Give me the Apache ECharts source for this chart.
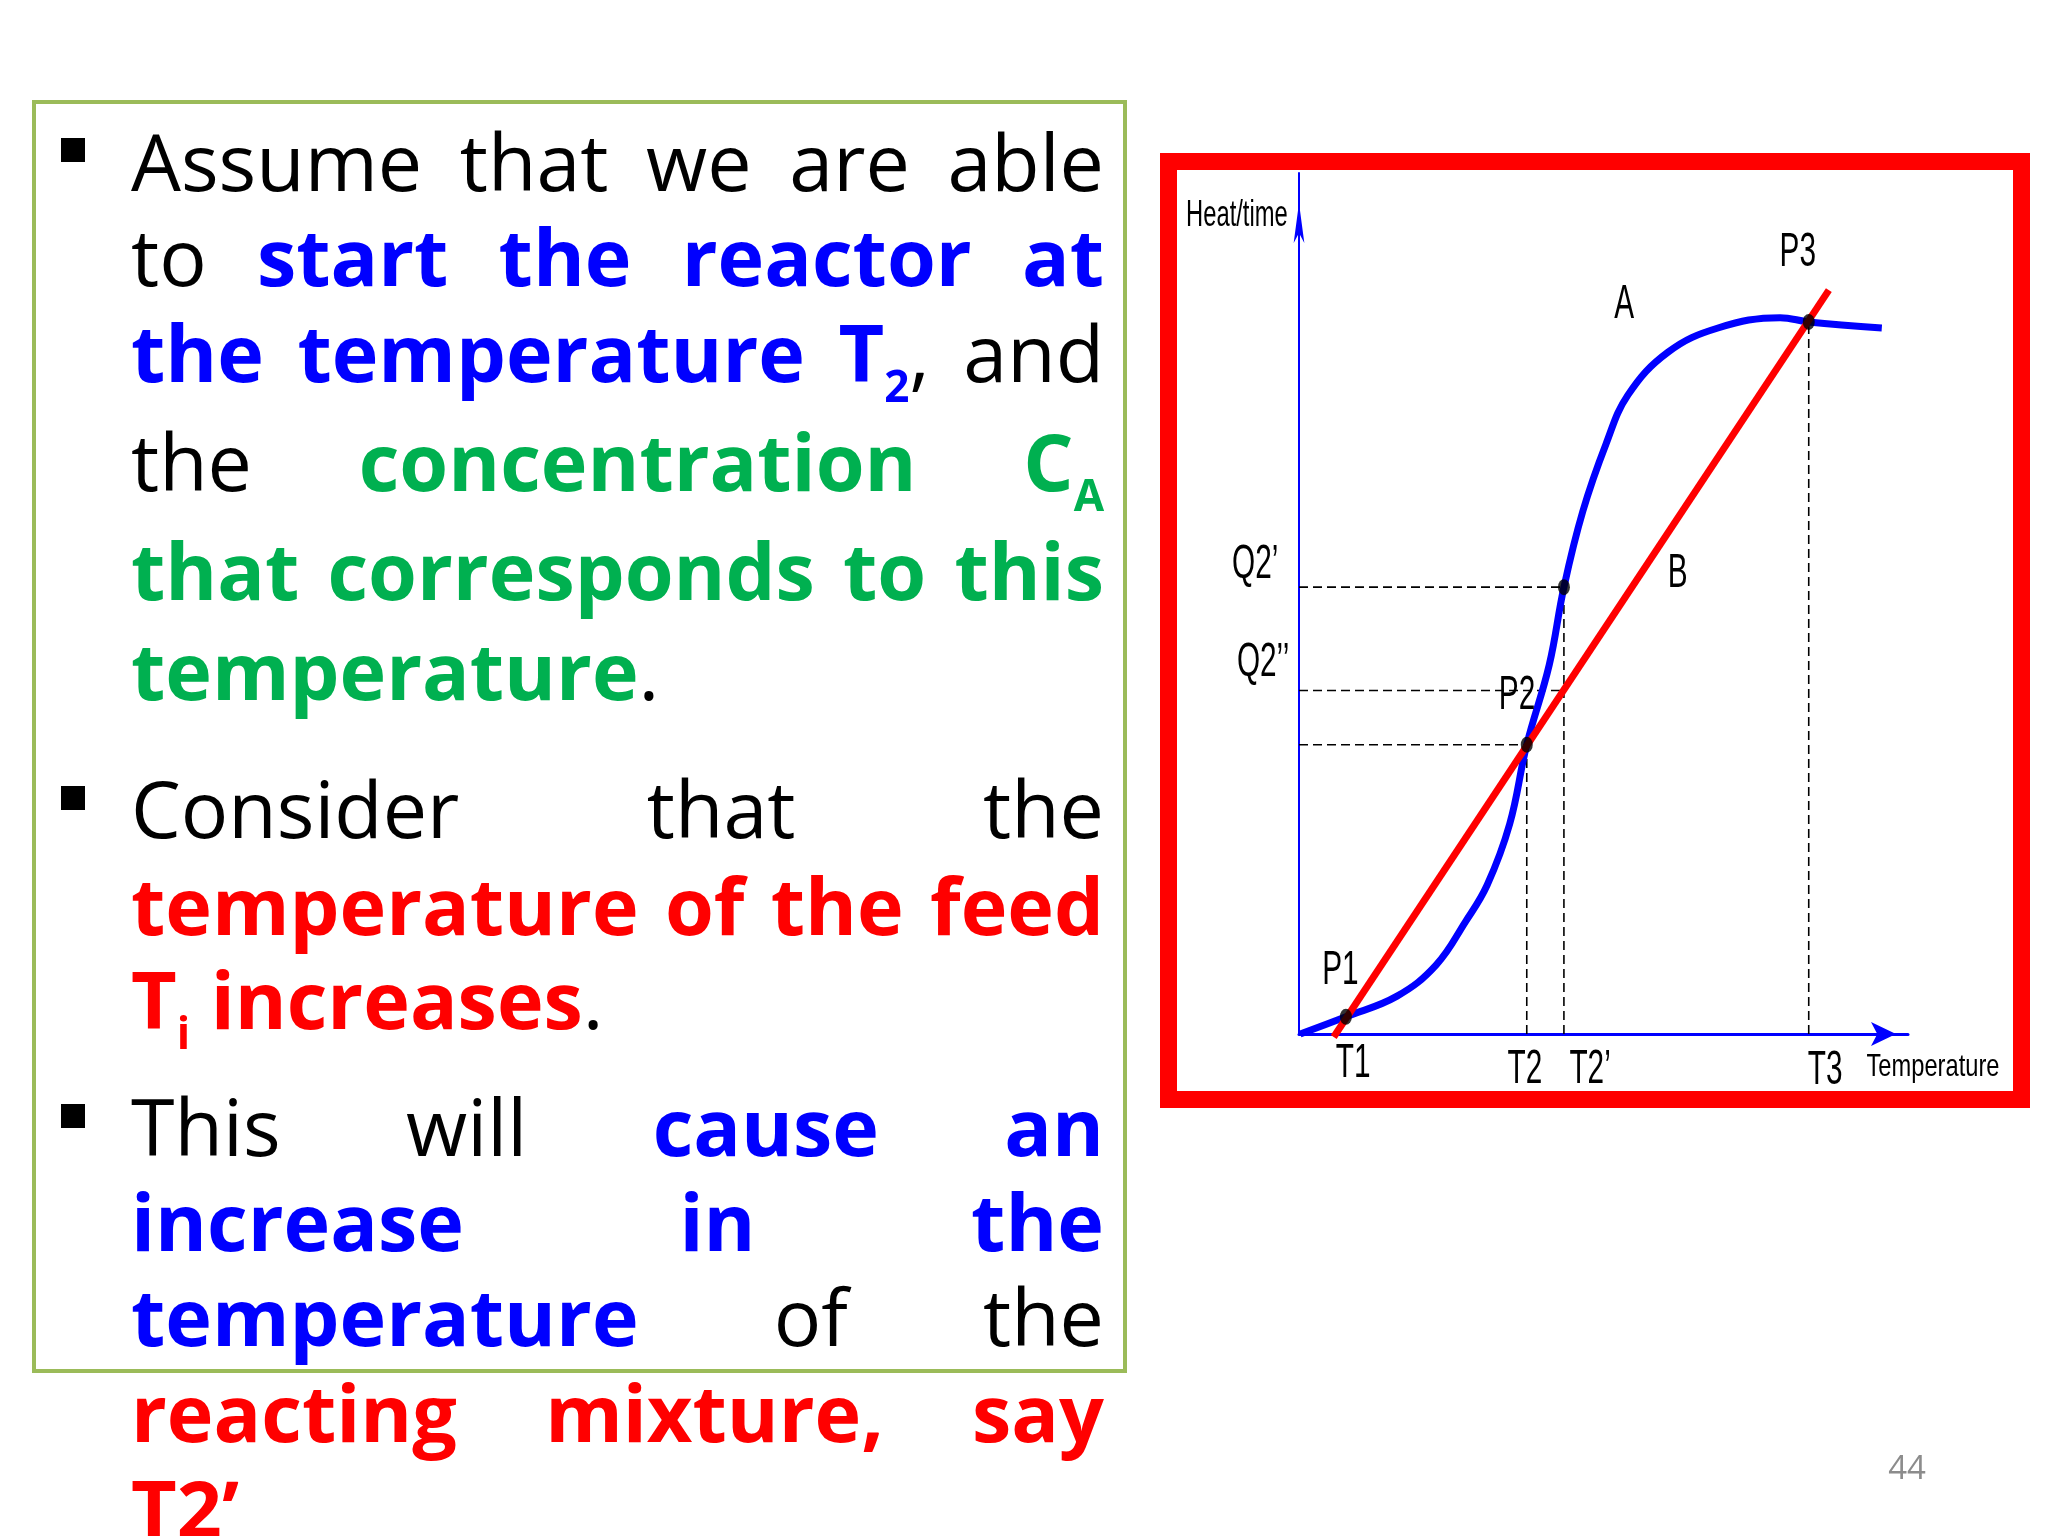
<!DOCTYPE html>
<html>
<head>
<meta charset="utf-8">
<script src="https://cdn.jsdelivr.net/npm/echarts@6/dist/echarts.min.js"></script>
<style>
  html, body { margin:0; padding:0; background:#fff; }
  #chart { position:absolute; left:0; top:0; width:2048px; height:1536px; }
  #slide { position:absolute; left:0; top:0; width:2048px; height:1536px; pointer-events:none; }
  .box { position:absolute; left:32px; top:100px; width:1095px; height:1273px; border:4px solid #9BBB59; box-sizing:border-box; }
  .ln { position:absolute; left:131px; width:973px; font-family:'Open Sans','Noto Sans',sans-serif; font-size:79px; line-height:100px; color:#000; white-space:nowrap; }
  .j { display:flex; justify-content:space-between; align-items:baseline; }
  .ln b { font-weight:700; }
  .bl { color:#0000FF; } .gr { color:#00B050; } .rd { color:#FF0000; }
  .ln sub { font-size:44px; vertical-align:-20px; line-height:0; }
  .bul { position:absolute; left:61px; width:24px; height:24px; background:#000; }
  .pg { position:absolute; left:1860px; width:94px; text-align:center; font-family:'Open Sans','Noto Sans',sans-serif; font-size:33px; line-height:40px; color:#8C8C8C; }
</style>
</head>
<body>
<div id="chart"></div>
<div id="slide">
  <div class="box"></div>
  <div class="bul" style="top:138px"></div>
  <div class="bul" style="top:786px"></div>
  <div class="bul" style="top:1104px"></div>

  <div class="ln j" style="top:111px"><span>Assume</span><span>that</span><span>we</span><span>are</span><span>able</span></div>
  <div class="ln j" style="top:206px"><span>to</span><b class="bl">start</b><b class="bl">the</b><b class="bl">reactor</b><b class="bl">at</b></div>
  <div class="ln j" style="top:302px"><b class="bl">the</b><b class="bl">temperature</b><span><b class="bl">T<sub>2</sub></b>,</span><span>and</span></div>
  <div class="ln j" style="top:411px"><span>the</span><b class="gr">concentration</b><b class="gr">C<sub>A</sub></b></div>
  <div class="ln j" style="top:520px"><b class="gr">that</b><b class="gr">corresponds</b><b class="gr">to</b><b class="gr">this</b></div>
  <div class="ln" style="top:620px"><b class="gr">temperature</b>.</div>

  <div class="ln j" style="top:758px"><span>Consider</span><span>that</span><span>the</span></div>
  <div class="ln j" style="top:855px"><b class="rd">temperature</b><b class="rd">of</b><b class="rd">the</b><b class="rd">feed</b></div>
  <div class="ln" style="top:949px"><b class="rd">T<sub>i</sub> increases</b>.</div>

  <div class="ln j" style="top:1076px"><span>This</span><span>will</span><b class="bl">cause</b><b class="bl">an</b></div>
  <div class="ln j" style="top:1171px"><b class="bl">increase</b><b class="bl">in</b><b class="bl">the</b></div>
  <div class="ln j" style="top:1266px"><b class="bl">temperature</b><span>of</span><span>the</span></div>
  <div class="ln j" style="top:1362px"><b class="rd">reacting</b><b class="rd">mixture,</b><b class="rd">say</b></div>
  <div class="ln" style="top:1458px"><b class="rd">T2’</b></div>

  <div class="pg" style="top:1447px">44</div>
</div>
<script>
// ---- data (x = temperature units 0..100, y = heat/time units 0..100) ----
const curveT = [0.2, 7.7, 16.1, 22.5, 27.3, 30.9, 34.6, 37.4, 41.1, 43.5, 46.6, 50.4, 54.0, 60.6, 68.8, 79.0, 83.7, 95.7];
const curveQ = [0.0, 2.0, 4.4, 8.0, 13.0, 17.3, 24.4, 33.6, 42.9, 51.9, 60.7, 68.5, 74.2, 79.2, 82.0, 83.2, 82.7, 82.0];
const lineT = [5.7, 87.0];
const lineQ = [-0.35, 86.4];

const tickNames = ['T1', 'T2', 'T2’', 'T3'];
const tickValues = [7.7, 37.4, 43.5, 83.7];
const levelNames = ['Q2’', 'Q2’’'];
const levelValues = [51.9, 39.9];

const pointNames = ['P1', 'P2', 'Q', 'P3'];
const pointT = [7.7, 37.4, 43.5, 83.7];
const pointQ = [2.0, 33.6, 51.9, 82.7];

// dashed guides: [fromT, fromQ, toT, toQ]
const guideFromT = [0, 0, 0, 37.4, 43.5, 83.7];
const guideFromQ = [51.9, 39.9, 33.6, 0, 0, 0];
const guideToT   = [43.5, 43.5, 37.4, 37.4, 43.5, 83.7];
const guideToQ   = [51.9, 39.9, 33.6, 33.6, 51.9, 82.7];

const labelNames = ['Heat/time', 'Temperature', 'T1', 'T2', 'T2’', 'T3', 'Q2’', 'Q2’’', 'P1', 'P2', 'P3', 'A', 'B'];
const labelT = [-10.2, 104.1, 8.9, 37.1, 47.8, 86.4, -7.2, -5.9, 6.8, 35.8, 81.9, 53.4, 62.2];
const labelQ = [95.0, -3.9, -3.5, -4.2, -4.1, -4.3, 54.5, 43.1, 7.3, 39.3, 90.7, 84.7, 53.5];

// ---- chart ----
const chart = echarts.init(document.getElementById('chart'), null, { width: 2048, height: 1536 });
const labelSize = { 'Heat/time': 36, 'Temperature': 32 };
const labelScale = { 'Heat/time': 0.66, 'Temperature': 0.74 };

const series = [];
series.push({
  name: 'A', type: 'line', data: curveT.map((t, i) => [t, curveQ[i]]),
  smooth: 0.4, symbol: 'none', clip: false, z: 3,
  lineStyle: { color: '#0000FF', width: 7 }
});
series.push({
  name: 'B', type: 'line', data: lineT.map((t, i) => [t, lineQ[i]]),
  symbol: 'none', clip: false, z: 4,
  lineStyle: { color: '#FF0000', width: 7 }
});
guideFromT.forEach((v, i) => {
  series.push({
    type: 'line', symbol: 'none', z: 2, silent: true,
    data: [[guideFromT[i], guideFromQ[i]], [guideToT[i], guideToQ[i]]],
    lineStyle: { color: '#000', width: 1.6, type: [9, 5] }
  });
});
series.push({
  type: 'scatter', z: 6, symbol: 'circle', symbolSize: [12, 16],
  itemStyle: { color: '#000' },
  data: pointT.map((t, i) => ({ name: pointNames[i], value: [t, pointQ[i]] }))
});
series.push({
  type: 'custom', z: 7, clip: false, silent: true,
  data: labelT.map((t, i) => [t, labelQ[i]]),
  renderItem: (params, api) => {
    const name = labelNames[params.dataIndex];
    const p = api.coord([api.value(0), api.value(1)]);
    const fs = labelSize[name] || 48;
    return {
      type: 'text', x: p[0], y: p[1], scaleX: labelScale[name] || 0.62,
      style: {
        text: name, fill: '#000', fontSize: fs,
        fontFamily: "'Liberation Sans', 'DejaVu Sans', sans-serif",
        align: 'center', verticalAlign: 'middle',
        textAlign: 'center', textVerticalAlign: 'middle'
      }
    };
  }
});

chart.setOption({
  animation: false,
  backgroundColor: '#fff',
  grid: { left: 1299, top: 173, width: 609, height: 861 },
  xAxis: {
    type: 'value', min: 0, max: 100,
    axisLine: { show: true, onZero: false, lineStyle: { color: '#0000FF', width: 3 },
      symbol: ['none', 'arrow'], symbolSize: [18, 25], symbolOffset: [0, -12] },
    axisTick: { show: false }, axisLabel: { show: false }, splitLine: { show: false }
  },
  yAxis: {
    type: 'value', min: 0, max: 100,
    axisLine: { show: true, onZero: false, lineStyle: { color: '#0000FF', width: 2 },
      symbol: ['none', 'arrow'], symbolSize: [8, 40], symbolOffset: [0, -30] },
    axisTick: { show: false }, axisLabel: { show: false }, splitLine: { show: false }
  },
  graphic: [{
    type: 'rect', z: 0, silent: true,
    shape: { x: 1168.5, y: 161.5, width: 853, height: 938 },
    style: { fill: 'none', stroke: '#FF0000', lineWidth: 17 }
  }],
  series: series
});
</script>
</body>
</html>
